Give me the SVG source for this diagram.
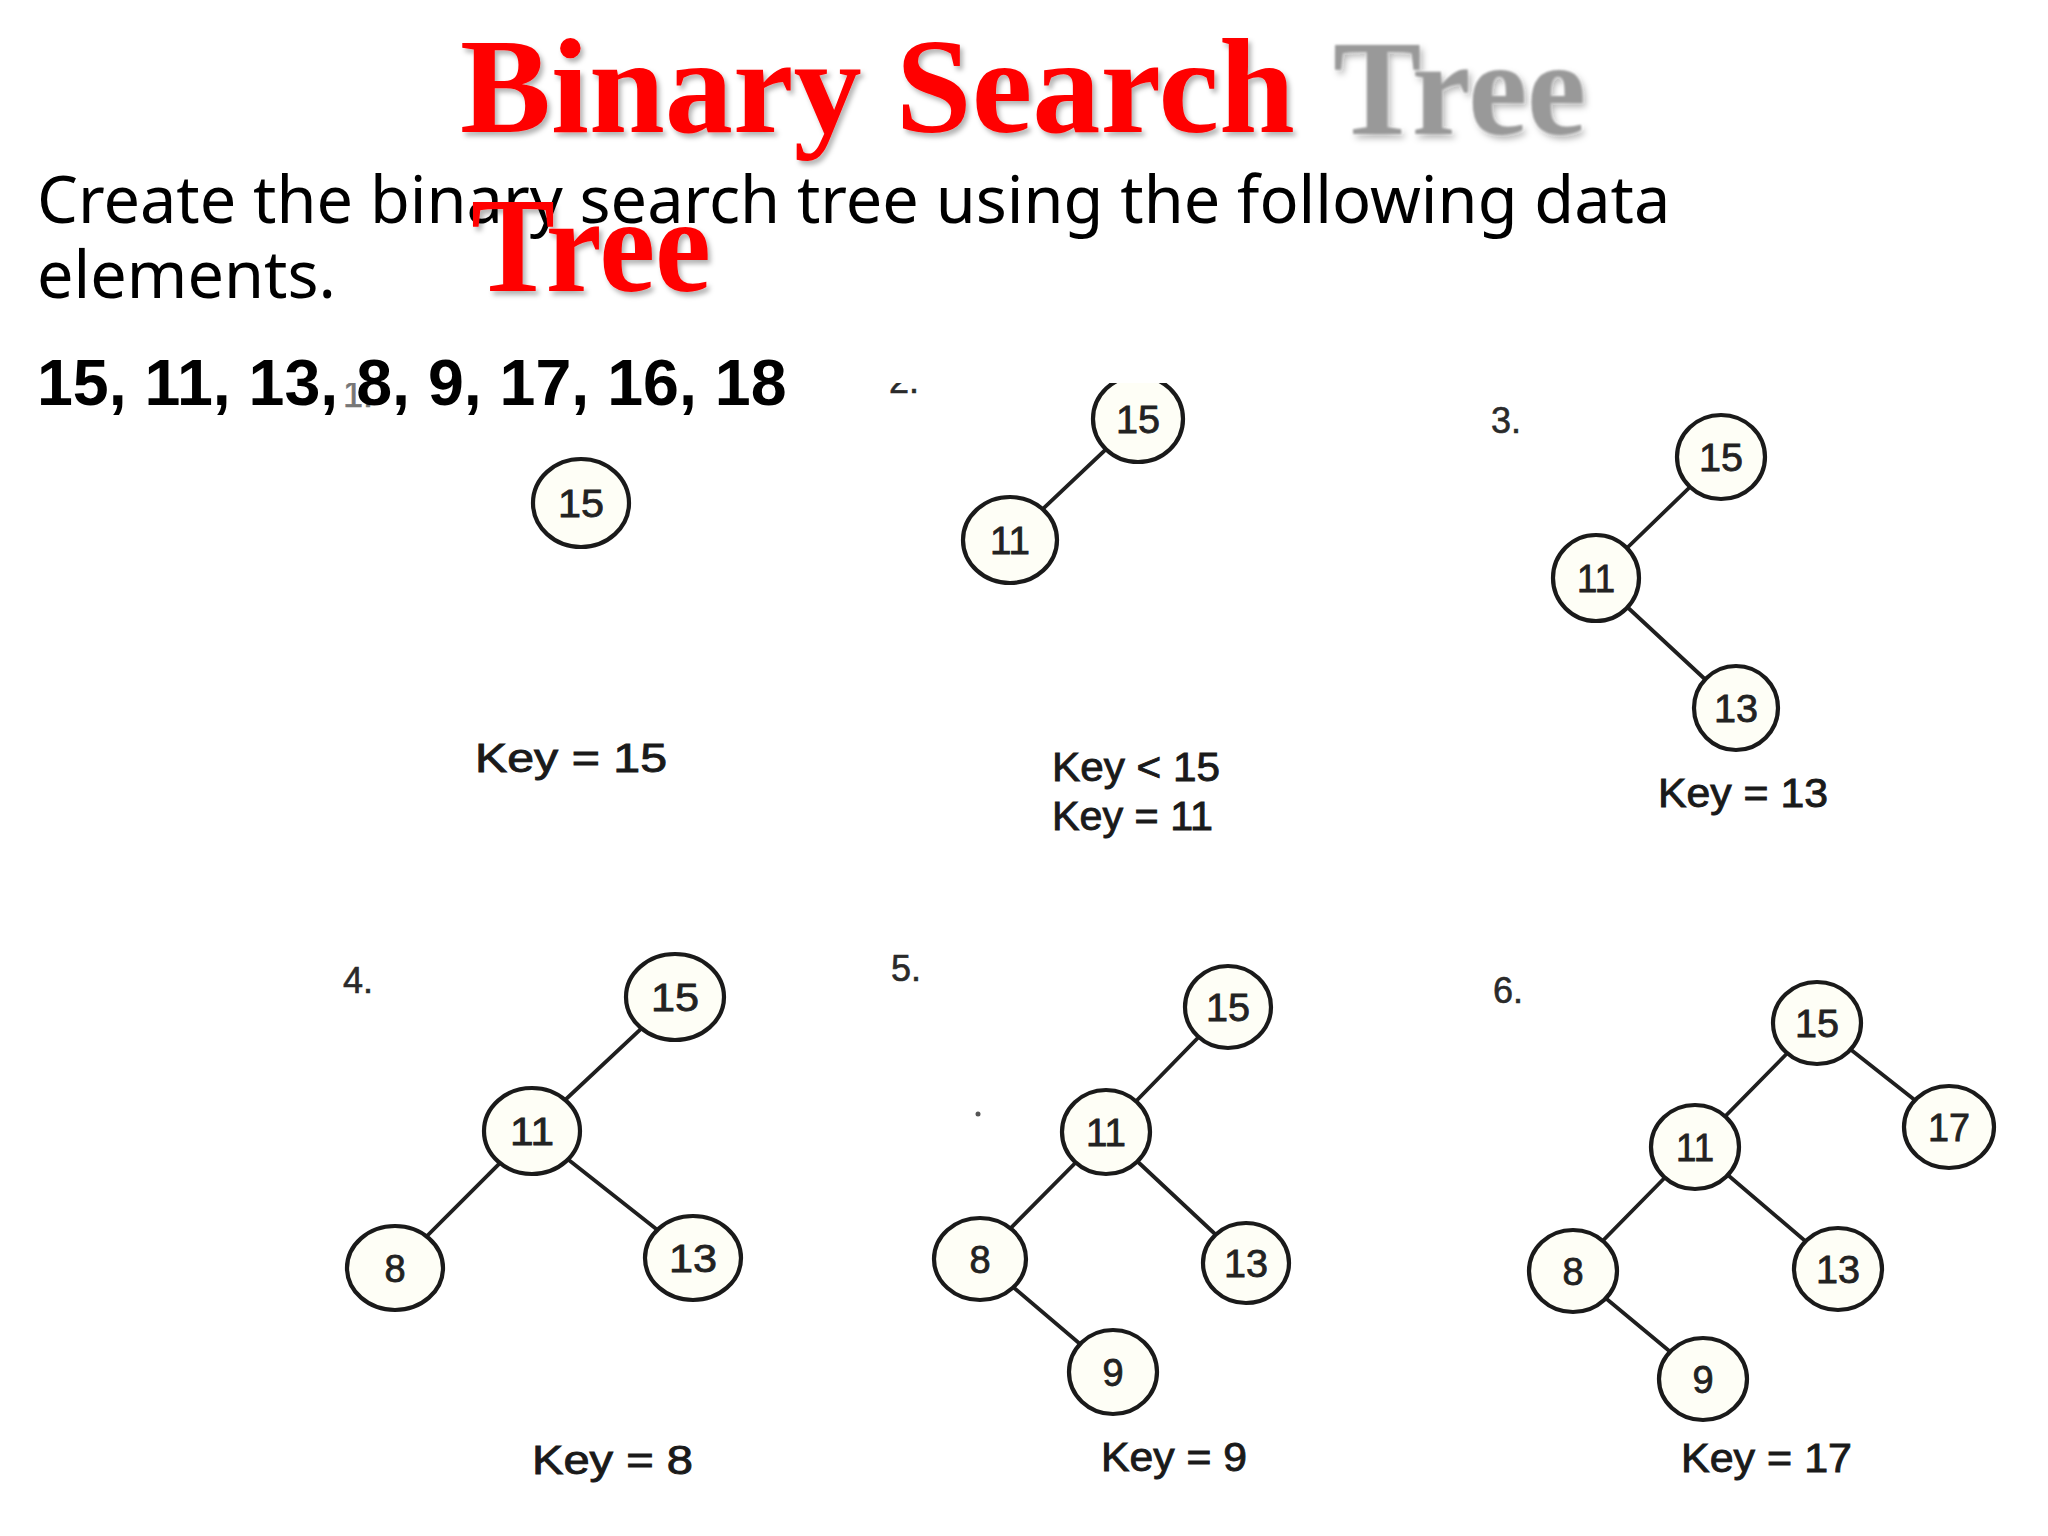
<svg xmlns="http://www.w3.org/2000/svg" width="2048" height="1536" viewBox="0 0 2048 1536">
  <defs>
    <filter id="shadow" x="-5%" y="-20%" width="115%" height="150%">
      <feDropShadow dx="3" dy="4" stdDeviation="2.5" flood-color="#000" flood-opacity="0.3"/>
    </filter>
    <filter id="shadowSoft" x="-5%" y="-20%" width="115%" height="150%">
      <feGaussianBlur in="SourceGraphic" stdDeviation="1.2" result="b"/>
      <feDropShadow in="b" dx="3" dy="4" stdDeviation="3" flood-color="#000" flood-opacity="0.3"/>
    </filter>
    <clipPath id="scan">
      <rect x="0" y="383" width="2048" height="1153"/>
    </clipPath>
    <style>
      .title { font-family: "Liberation Serif", "Times New Roman", serif; font-weight: bold; font-size: 136px; }
      .red { fill: #ff0000; }
      .grey { fill: #999999; }
      .intro { font-family: "Noto Sans", "Open Sans", sans-serif; font-size: 64.8px; fill: #000; }
      .nums { font-family: "Liberation Sans", Arial, sans-serif; font-weight: bold; font-size: 64.5px; fill: #000; }
      .step { font-family: "Liberation Sans", Arial, sans-serif; font-size: 36px; fill: #2a2a2a; stroke: #2a2a2a; stroke-width: 0.6; }
      .key { font-family: "Liberation Sans", Arial, sans-serif; font-size: 40px; fill: #1a1a1a; stroke: #1a1a1a; stroke-width: 0.9; }
      .node ellipse { fill: #fefef6; stroke: #1a1a1a; stroke-width: 4.2; }
      .node text { font-family: "Liberation Sans", Arial, sans-serif; font-size: 38px; fill: #222; stroke: #222; stroke-width: 0.8; text-anchor: middle; }
      .edges line { stroke: #1f1f1f; stroke-width: 3.8; stroke-linecap: round; }
    </style>
  </defs>

  <rect x="0" y="0" width="2048" height="1536" fill="#ffffff"/>

  <!-- scanned diagram area -->
  <g clip-path="url(#scan)">
    <!-- step labels -->
    <text class="step" x="343" y="407" style="fill:#777;stroke:#777">1.</text>
    <text class="step" x="889" y="393">2.</text>
    <text class="step" x="1491" y="433">3.</text>
    <text class="step" x="343" y="993">4.</text>
    <text class="step" x="891" y="981">5.</text>
    <text class="step" x="1493" y="1003">6.</text>

    <!-- connectors -->
    <g id="connectors" class="edges">
      <!-- tree 2 -->
      <line x1="1010" y1="540" x2="1138" y2="419"/>
      <!-- tree 3 -->
      <line x1="1596" y1="578" x2="1721" y2="457"/>
      <line x1="1596" y1="578" x2="1736" y2="708"/>
      <!-- tree 4 -->
      <line x1="532" y1="1131" x2="675" y2="997"/>
      <line x1="532" y1="1131" x2="395" y2="1268"/>
      <line x1="532" y1="1131" x2="693" y2="1258"/>
      <!-- tree 5 -->
      <line x1="1106" y1="1132" x2="1228" y2="1007"/>
      <line x1="1106" y1="1132" x2="980" y2="1259"/>
      <line x1="1106" y1="1132" x2="1246" y2="1263"/>
      <line x1="980" y1="1259" x2="1113" y2="1372"/>
      <!-- tree 6 -->
      <line x1="1695" y1="1147" x2="1817" y2="1023"/>
      <line x1="1817" y1="1023" x2="1949" y2="1127"/>
      <line x1="1695" y1="1147" x2="1573" y2="1271"/>
      <line x1="1695" y1="1147" x2="1838" y2="1269"/>
      <line x1="1573" y1="1271" x2="1703" y2="1379"/>
    </g>

    <!-- tree 1 -->
    <g id="t1-n15" class="node"><ellipse cx="581" cy="503" rx="48" ry="44"/><text x="581" y="517" textLength="46" lengthAdjust="spacingAndGlyphs">15</text></g>

    <!-- tree 2 -->
    <g id="t2-n15" class="node"><ellipse cx="1138" cy="419" rx="45" ry="43"/><text x="1138" y="433" textLength="44" lengthAdjust="spacingAndGlyphs">15</text></g>
    <g id="t2-n11" class="node"><ellipse cx="1010" cy="540" rx="47" ry="43"/><text x="1010" y="554" textLength="40" lengthAdjust="spacingAndGlyphs">11</text></g>

    <!-- tree 3 -->
    <g id="t3-n15" class="node"><ellipse cx="1721" cy="457" rx="44" ry="42"/><text x="1721" y="471" textLength="44" lengthAdjust="spacingAndGlyphs">15</text></g>
    <g id="t3-n11" class="node"><ellipse cx="1596" cy="578" rx="43" ry="43"/><text x="1596" y="592" textLength="38" lengthAdjust="spacingAndGlyphs">11</text></g>
    <g id="t3-n13" class="node"><ellipse cx="1736" cy="708" rx="42" ry="42"/><text x="1736" y="722" textLength="44" lengthAdjust="spacingAndGlyphs">13</text></g>

    <!-- tree 4 -->
    <g id="t4-n15" class="node"><ellipse cx="675" cy="997" rx="49" ry="43"/><text x="675" y="1011" textLength="48" lengthAdjust="spacingAndGlyphs">15</text></g>
    <g id="t4-n11" class="node"><ellipse cx="532" cy="1131" rx="48" ry="43"/><text x="532" y="1145" textLength="44" lengthAdjust="spacingAndGlyphs">11</text></g>
    <g id="t4-n8" class="node"><ellipse cx="395" cy="1268" rx="48" ry="42"/><text x="395" y="1282">8</text></g>
    <g id="t4-n13" class="node"><ellipse cx="693" cy="1258" rx="48" ry="42"/><text x="693" y="1272" textLength="48" lengthAdjust="spacingAndGlyphs">13</text></g>

    <!-- tree 5 -->
    <g id="t5-n15" class="node"><ellipse cx="1228" cy="1007" rx="43" ry="41"/><text x="1228" y="1021" textLength="44" lengthAdjust="spacingAndGlyphs">15</text></g>
    <g id="t5-n11" class="node"><ellipse cx="1106" cy="1132" rx="44" ry="42"/><text x="1106" y="1146" textLength="40" lengthAdjust="spacingAndGlyphs">11</text></g>
    <g id="t5-n8" class="node"><ellipse cx="980" cy="1259" rx="46" ry="41"/><text x="980" y="1273">8</text></g>
    <g id="t5-n13" class="node"><ellipse cx="1246" cy="1263" rx="43" ry="40"/><text x="1246" y="1277" textLength="44" lengthAdjust="spacingAndGlyphs">13</text></g>
    <g id="t5-n9" class="node"><ellipse cx="1113" cy="1372" rx="44" ry="42"/><text x="1113" y="1386">9</text></g>
    <circle cx="978" cy="1114" r="2.5" fill="#555"/>

    <!-- tree 6 -->
    <g id="t6-n15" class="node"><ellipse cx="1817" cy="1023" rx="44" ry="41"/><text x="1817" y="1037" textLength="44" lengthAdjust="spacingAndGlyphs">15</text></g>
    <g id="t6-n17" class="node"><ellipse cx="1949" cy="1127" rx="45" ry="41"/><text x="1949" y="1141" textLength="42" lengthAdjust="spacingAndGlyphs">17</text></g>
    <g id="t6-n11" class="node"><ellipse cx="1695" cy="1147" rx="44" ry="42"/><text x="1695" y="1161" textLength="38" lengthAdjust="spacingAndGlyphs">11</text></g>
    <g id="t6-n8" class="node"><ellipse cx="1573" cy="1271" rx="44" ry="41"/><text x="1573" y="1285">8</text></g>
    <g id="t6-n13" class="node"><ellipse cx="1838" cy="1269" rx="44" ry="41"/><text x="1838" y="1283" textLength="44" lengthAdjust="spacingAndGlyphs">13</text></g>
    <g id="t6-n9" class="node"><ellipse cx="1703" cy="1379" rx="44" ry="41"/><text x="1703" y="1393">9</text></g>

    <!-- key captions -->
    <text class="key" x="475" y="772" textLength="192" lengthAdjust="spacingAndGlyphs">Key = 15</text>
    <text class="key" x="1052" y="781" textLength="168" lengthAdjust="spacingAndGlyphs">Key &lt; 15</text>
    <text class="key" x="1052" y="830" textLength="161" lengthAdjust="spacingAndGlyphs">Key = 11</text>
    <text class="key" x="1658" y="807" textLength="170" lengthAdjust="spacingAndGlyphs">Key = 13</text>
    <text class="key" x="532" y="1474" textLength="161" lengthAdjust="spacingAndGlyphs">Key = 8</text>
    <text class="key" x="1101" y="1471" textLength="146" lengthAdjust="spacingAndGlyphs">Key = 9</text>
    <text class="key" x="1681" y="1472" textLength="171" lengthAdjust="spacingAndGlyphs">Key = 17</text>
  </g>

  <!-- title -->
  <g id="title">
    <text class="title red" x="460" y="132" textLength="835" lengthAdjust="spacingAndGlyphs" filter="url(#shadow)">Binary Search</text>
    <text class="title grey" x="1333" y="134" textLength="253" lengthAdjust="spacingAndGlyphs" filter="url(#shadowSoft)">Tree</text>
  </g>

  <!-- intro text -->
  <g id="intro">
    <text class="intro" x="37" y="223">Create the binary search tree using the following data</text>
    <text class="intro" x="37" y="298">elements.</text>
  </g>

  <g id="title-wrap">
    <text class="title red" x="471" y="291" textLength="240" lengthAdjust="spacingAndGlyphs" filter="url(#shadow)">Tree</text>
  </g>

  <g id="data">
    <text class="nums" x="37" y="405">15, 11, 13, 8, 9, 17, 16, 18</text>
  </g>
</svg>
